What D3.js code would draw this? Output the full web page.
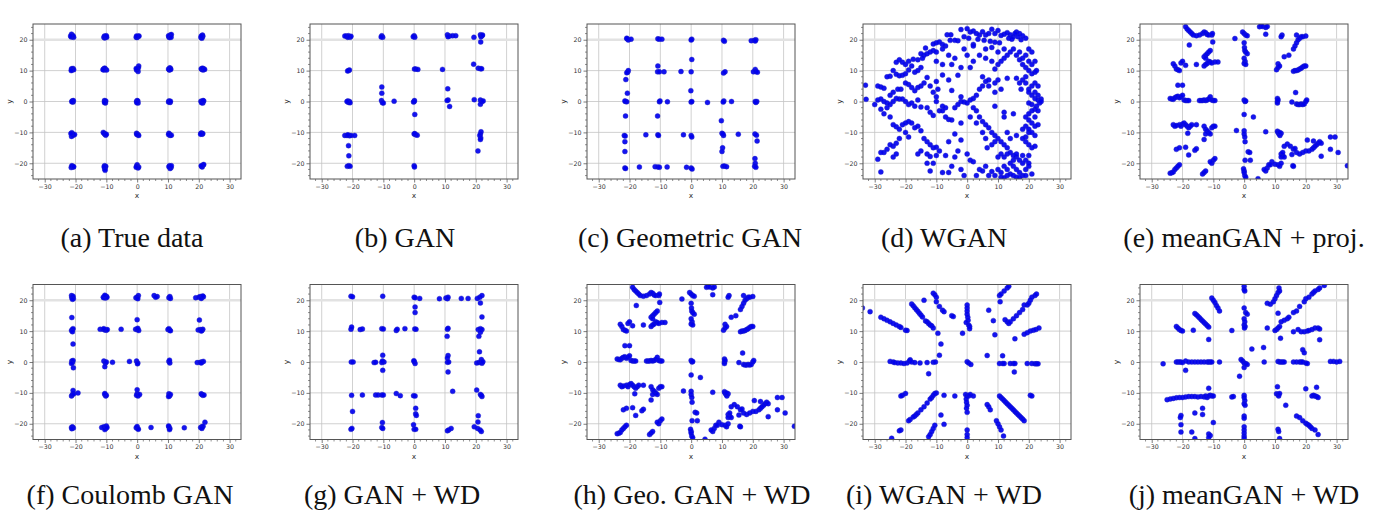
<!DOCTYPE html>
<html><head><meta charset="utf-8">
<script src="https://cdn.jsdelivr.net/npm/d3@7"></script>
<style>body{margin:0;background:#fff}svg{display:block}</style>
</head><body>
<svg id="c" width="1376" height="513"></svg>
<script>
const xTicks = [-30,-20,-10,0,10,20,30];
const yTicks = [-20,-10,0,10,20];
const captions = ["(a) True data","(b) GAN","(c) Geometric GAN","(d) WGAN","(e) meanGAN + proj.",
  "(f) Coulomb GAN","(g) GAN + WD","(h) Geo. GAN + WD","(i) WGAN + WD","(j) meanGAN + WD"];

const trueData = [[-21.3,21.8],[-21,21],[-20.6,20.8],[-21.4,20.9],[-20.8,21.3],[-21.6,21.2],[-10.8,20.8],[-10.2,21],[-10.5,20.6],[-9.9,20.8],[-10.6,21.2],[-10,21.3],[-0.3,20.8],[0.4,21.1],[0,20.7],[0.6,21.2],[-0.2,21.2],[10.3,20.9],[10.8,21.5],[10.5,20.7],[11.1,21.7],[10.2,21.3],[11,20.8],[20.7,20.7],[21.3,21.1],[21,20.5],[21.2,21.5],[20.8,21.2],
[-21.2,10.2],[-20.8,10.7],[-21,10.4],[-20.6,10.3],[-21.3,10.6],[-21.4,10],[-10.9,10.5],[-10.4,10.7],[-10.7,10.2],[-9.9,10.2],[-10.6,10.8],[-11.1,10.3],[0,10.5],[0.5,11.5],[0.3,9.7],[-0.2,10.2],[0.4,10.9],[-0.3,10.7],[10.4,10.3],[10.8,10.7],[10.5,10.2],[10.6,10.9],[10.2,10.5],[10.9,10.4],[21,10.4],[21.6,10.6],[20.8,10.6],[21.4,10.2],[21.2,10.8],[21.9,10.4],
[-21.1,0.2],[-20.8,-0.2],[-21,0],[-20.7,0.3],[-21.2,-0.1],[-10.6,0.3],[-10.3,-0.5],[-10.5,0],[-10.2,0.2],[-10.6,-0.3],[0,0.3],[0.3,-0.5],[-0.2,0],[0.2,0.2],[-0.1,-0.4],[10.3,0.2],[10.7,-0.3],[10.5,0],[10.2,-0.2],[10.8,0.1],[20.7,0.1],[21.3,-0.5],[21,0],[21.6,0.2],[20.9,-0.4],[21.4,0.3],
[-21.2,-10.1],[-20.7,-10.9],[-21,-10.5],[-20.3,-10.7],[-21.3,-11.3],[-21.5,-10.4],[-11,-10],[-10.5,-10.6],[-10.2,-10.9],[-10.7,-10.3],[-10,-10.6],[-0.2,-10.3],[0.3,-10.8],[0,-10.5],[0.5,-11],[-0.1,-10.7],[10.3,-10.3],[10.7,-11],[10.5,-10.6],[11.1,-10.9],[10.2,-10.7],[20.7,-10.3],[21.1,-10.6],[20.9,-10.2],[21.3,-10.4],[20.6,-10.6],
[-21.4,-21.4],[-21,-21],[-20.7,-21.2],[-21.2,-20.8],[-20.6,-21.1],[-10.6,-20.8],[-10.4,-21.4],[-10.5,-21.9],[-10.2,-21],[-10.7,-21.2],[-10.4,-22.3],[0,-20.5],[0.5,-21.2],[-0.2,-21],[0.3,-21.5],[-0.3,-21.3],[10.5,-20.8],[11,-21.4],[10.7,-21.7],[10.3,-21.1],[11.1,-20.8],[20.9,-21],[21.4,-20.6],[21.1,-21.2],[21.6,-20.4],[20.8,-20.8]];

const ganData = [[-22,21.2],[-21.3,21.3],[-20.8,20.8],[-21.6,20.8],[-20.5,21.1],[-21.5,21],[-22.5,21.2],[-10.5,21.3],[-10.2,20.8],[-10.7,20.9],[0,21.3],[0.2,20.8],[-0.3,21],[10.8,21.6],[11.5,21.2],[12.5,21.3],[13.5,21.3],[11,21],[19.4,20.8],[21.5,21.6],[22,21.3],[21.7,21],[22.2,21.5],[21.6,19.3],
[-21.3,10],[-21,10.2],[-21.6,9.9],[0.1,10.5],[0.5,10.5],[1.2,10.4],[9.2,10.4],[19.3,12.1],[20.8,10.8],[21.5,10.6],[21.9,10.6],
[-10.5,4.7],[-10.5,2.7],[-10.6,0.3],[-10.3,-0.4],[-10,-0.5],[-6.5,0.1],[10.9,4.1],[11,0.5],[10.7,0.3],[11.5,-1.6],[19.5,0.6],[21.5,0.5],[22,0],[21.5,-0.9],[22.4,0.2],
[-21.5,0.2],[-21,0],[-21.3,-0.3],[-20.8,-0.4],[-21.8,0],[0.1,0.3],[-0.2,-0.2],[0,0],[0.2,-4.2],
[-22.5,-11],[-21.8,-11],[-21,-11.1],[-20.5,-11],[-19.3,-11],[-21.5,-10.8],[-21.3,-14.3],[-21.2,-17.6],[-21.7,-21],[-21.2,-20.8],[-20.8,-21],
[0,-10.5],[0.5,-10.8],[1,-10.9],[0.2,-10.4],[21.7,-9.8],[21.5,-10.5],[21.3,-11],[21.6,-11.8],[21.5,-12.3],[20.7,-16],[0,-20.8],[0.1,-21.2]];

const geoData = [[-20.8,20.3],[-20.4,19.9],[-19.5,20.2],[-20.9,20.5],[-10.8,20.3],[-10.4,20.2],[-9.5,20.2],[0.2,20.2],[0,19.9],[10.5,19.8],[10.8,19.5],[19.5,19.7],[20.5,19.8],[21,20],[20.8,19.6],
[-20.6,9.5],[-20.4,10],[-20.9,9.3],[-10.8,11.5],[-10.9,9.6],[-10.3,9.6],[-8.8,9.6],[-3.3,9.7],[0,9.6],[0.2,13.6],[10.5,9.2],[11,9.6],[20.8,10.4],[20.2,9.6],[21,9.7],[21.5,9.5],
[-21.2,7.1],[-20.7,2.7],[-21.3,0],[-20.9,-0.1],[-21.5,0.2],[-10.3,-0.1],[-10.1,0.2],[-7.7,-0.1],[-0.1,3.5],[0,-0.2],[0.2,0],[5.3,-0.3],[10.6,0.2],[10.4,-0.2],[13.1,0],[20.8,0],[21.3,0],[21,-0.3],
[-21.3,-4.7],[-10.9,-4.7],[-21.7,-11],[-21.4,-11.2],[-21.5,-13],[-21.5,-16.2],[-14.7,-10.8],[-10.8,-10.8],[-10.6,-11],[-2.5,-10.8],[0,-11],[0.2,-11.5],
[9.8,-6.2],[10,-10.3],[10.5,-11],[10.3,-10.5],[10.2,-15],[10,-16.2],[15.3,-10.6],[20.7,-10.5],[21.2,-10.9],[21.4,-12.8],[20.7,-18.5],[20.8,-20],[20.6,-21],[21,-21.3],
[-21.5,-21.5],[-21.3,-21.7],[-16.8,-21.2],[-11.7,-21.1],[-10.8,-21.2],[-10.3,-21.3],[-7.8,-21.2],[-1.5,-21.3],[0,-21.5],[0.3,-21.9],[10.3,-21],[10.8,-20.9],[11.5,-21.1]];

const wganData = [[-2,23.3],[0,23.6],[1,22.5],[2,22.8],[3,22],[4,21.5],[5,22.6],[6,21.5],[7,22],[8,23.4],[9,22],[10,23],[11,21.4],[12,21.8],[13,22.3],[14,21.6],[15,21],[16,22.5],[17,22],[16.5,21],[15.5,22],[18,21.3],[17.5,20],[19,20.5],[13.5,20.5],[14.5,20.2],
[-1,21],[0.5,20.5],[3.5,20.2],[5.5,19.8],[7.5,19.5],[9,19.2],[10.5,19],[2,18.5],[-3,19.7],[-4,19.8],[-5.5,19.8],[-7,18],[-8,18.5],[-9,19.3],[-10,19],[-11,18.6],[-6.5,21.6],[-5.3,21.6],
[-12,16],[-13,15.5],[-14,15],[-15,15.5],[-14.5,14],[-13.5,17.3],[-11,16.5],[-10,16],[-16,13.5],[-17.5,13.7],[-19,13],[-20,12],[-21,12.7],[-22,13.5],[-23,12.7],[-18,11.5],[-19,10.2],[-20,9],[-21,8.5],[-22,8.3],[-23,8.8],[-24,10],[-25,8.2],[-26,8],[-17,9.5],[-16,10],[-15,11],
[-13,7.8],[-14,6],[-12,5],[-10,6.5],[-8,8.6],[-6,7],[-9.5,4],[-11,3],[-15,5],[-16,4.5],[-17,3.5],[-18,4.5],[-19,5.5],[-20,6],[-21.5,4],[-22.5,4],[-24,3],[-25,2],[-27,4.3],[-28,4.7],[-29,5],[-33,5.3],[-32.8,0.7],
[-29,0.5],[-28,0.8],[-27,0],[-26,-0.5],[-25,-1],[-24,0],[-23,1],[-22,0.8],[-21,0.8],[-20,0],[-19,-1],[-18,-0.5],[-17,-1.5],[-16,0.5],[-15,-1.8],[-13,-2],[-12,-3.5],[-11,-4.5],[-10,1.5],[-10,0],[-9,-3],[-8,-1.5],[-7,-2],[-6,-5.8],[-4,-2],[-3,-1],[-2,0],[-1,-0.2],[0,-0.5],[1,0.5],[2,1],[3,2],[4,4],[5,5],[6,6.5],[7,7],[-5,3.6],[-2,1.5],
[-30,-1],[-28,-2.5],[-27,-4],[-26,-2],[-25,-5],[-24,-7.5],[-23,-8.2],[-22,-9],[-21,-7.5],[-20,-7],[-19,-6.5],[-18,-7],[-17,-8.5],[-16,-8],[-15,-9.5],[-14,-12],[-13,-13],[-12,-14],[-11,-15],[-10,-14.8],[-9,-16],[-20,-10],[-19,-11.5],[-22,-12],[-23,-13.5],[-24,-14.5],[-25,-14],[-26,-15.5],[-27,-16.5],[-28,-16.5],[-29,-18.7],[-28,-22.8],[-24,-18],[-23,-17],
[-16,-17],[-15,-16],[-13,-17],[-12,-17.8],[-13,-20],[-12,-22.5],[-11,-20],[-10,-17.5],[-8,-23],[-7,-17.5],[-6,-23],[-5,-21],[-4,-18],[-3,-16],[-2,-22],[-1,-24],[0,-17],[1,-19],[2,-19.5],[3,-24],[4,-22],[5,-22.5],[6,-21],[7,-24],[8,-22.7],[9,-24],[-4,-10.5],[-6,-13],[-2,-12.5],
[2,-2],[3,-3],[4,-5],[5,-6.5],[6,-7.5],[7,-8.5],[8,-10],[9,-11],[10,-12],[11,-13],[12,-14],[13,-15],[5,-10],[6,-12],[6.5,-15],[8,-14],[9,-13],[10,-18],
[10,-22],[11,-23],[12,-21],[13,-22],[14,-20],[15,-21],[16,-22],[17,-23],[18,-24],[19,-22],[20,-21],[13,-24],[14,-23.5],[15,-24],[16,-24.5],[17,-24.6],[11,-24.5],[12,-24.7],[19,-24],[21,-23.5],[15,-19],[16,-18],[17,-19],[18,-20],[19,-19],[20,-20],[11,-17],[12,-18],[13,-17],[14,-16.5],[15,-17.5],[16,-17],[18,-17.5],[20,-17.5],[21,-15],[22,-14.5],[20,-14],[19,-13],
[9,10.5],[10,12],[11,13],[12,14],[13,15],[14,16],[15,17],[16,15],[17,13.5],[18,12],[19,11],[20,10],[21,9],[22,9.5],[22.5,10],[20,13],[21,12],[22,13],[18,14],[17,16],[19,15],[20,17],[21,16],[22,6],[23,5],[21,5],[20,4],[19,6],[20,3],[21,2],[22,1],[23,0.5],[24,0.8],[23.5,-0.5],[22.5,-1.5],[22,-2.5],[21,-3],[20,-4],[19,-5],[20,-6],[21,-7],[19,-8],[18,-9],[20,-10],[21,-10],[22,-11],[19,-11.5],[18,-12],[20,-9],[22,-8],[23,-7.5],[22,-5],[23,-3],[24,0],[22,3],[23,2],[21,-1],[20,-0.5],[17,6],[18,7],[19,8],[16,7.5],[17.5,4],[15,-4],[14,-12],[13,-10],[16,-11],[12,-5],[9,-1.5],[9,6],[12,-3.5],[11,4],[13,7.5],
[-7,-5],[-8,-3],[-5,-6],[-2,-7],[1,-5],[3,-7],[-3,8.5],[-5,12],[-4,14],[-2,11],[1,11],[2,13],[0,15],[4,15],[6,14],[8,13],[10,7],[9,3],[7,5],[5,8],[-8,12],[-6,15],[-10,13],[-8,17],[2,18],[6,17],[8,17.5],[10,16],[12,17],[-1,17]];

const meanProjData = [[-19,24.2],[-18.5,23.5],[-18,23],[-17.5,22.5],[-17,22],[-16.5,21.5],[-15.5,21.3],[-14.5,21.5],[-13.5,22],[-13,22.5],[-12.5,22.3],[-12,21.7],[-11.5,21.5],[-10.5,21.5],[-10.3,22],[-10.2,19.3],[-17.8,18.3],
[-23,12.2],[-22.5,11.5],[-22,10.5],[-21.5,10.3],[-21,10],[-20.5,12.5],[-20,13],[-19,11.7],[-15.5,12],
[-13,11.5],[-12.5,12],[-12,12.3],[-11.5,13],[-11,12.8],[-10.5,12.5],[-9.5,12.8],[-8.5,12.8],[-13,14.5],[-12.5,15],[-12,15.5],[-11.5,16],[-11,16.5],[-12.5,14],
[-21.5,5.3],[-20,5.3],
[-24,1],[-23.5,0.8],[-23,0.7],[-22.5,1.2],[-22,1.5],[-21.5,1.7],[-21,1.2],[-20.5,1.5],[-20,2],[-19.5,0.5],[-19,0.3],[-18.5,0.3],[-18,0.3],
[-14.5,0.3],[-14,0.3],[-13.5,0.3],[-13,0.5],[-12.5,0.3],[-12,0.5],[-11.5,0.8],[-11,1.5],[-10.5,0.5],[-10,0.3],[-9.5,0.3],
[-23,-7.5],[-22.5,-8],[-22,-7.8],[-21,-7.5],[-20.5,-8],[-20,-7.3],[-19.5,-7],[-19,-7.5],[-18.5,-8],[-18,-8.5],[-17.5,-8],[-17,-7.5],[-18.3,-10.3],[-15.5,-7.5],
[-13,-8],[-12.5,-9],[-12,-9.5],[-11.5,-10],[-11,-10.5],[-10.5,-8.5],[-10,-8],[-9.5,-8],[-12.5,-10.5],[-13,-12.3],
[-22,-15.5],[-21,-15],[-19,-14.8],[-18,-17.3],[-16,-15.8],[-15.5,-15.3],
[-24,-23.2],[-23.5,-23.1],[-23,-22.8],[-22.5,-22],[-22,-21.5],[-21.5,-21],[-21,-20.5],
[-13.5,-23.5],[-13,-23],[-12.5,-22.5],[-10.5,-20],[-10,-19],[-9.5,-18.5],[-11,-19.5],
[-0.5,22.5],[0,22],[0.5,21.5],[1,21.3],[-3,20.4],[0,19],[0.1,17.5],[0.2,16.5],[0.5,16],[1,15.5],[0,14],[0.3,13],[0,12.3],[0.5,12],
[0,0.5],[0.3,0],[0.5,0.2],[0,-4.2],[3,-5],[-2.5,-9.4],[0,-9.5],[0,-10.5],[0.2,-11.5],[0.3,-13],[1.3,-16.3],[1.8,-16.5],[0.3,-19],[2,-19],[0,-22.5],[0,-23],[0.2,-24],[0.5,-24.5],[-0.2,-21.8],[4.5,-25],
[5,24.2],[5.5,24.5],[6,24.3],[7,24],[7.5,24.3],[7,21.8],
[12.3,21.5],[12,21],[14.5,15],[13,14.5],[11,12.2],[10.5,10.3],[11,11],[11.5,11.5],[16,17],[16.5,18],[17,19],[17.5,20],[18,20.5],[18.5,21],[17,21.5],[19,21],[20,21.2],
[16,9.8],[16.5,10],[17,10],[17.5,10.2],[18,10.5],[18.5,10.8],[19,11.2],[19.5,11.5],[20,11.5],
[10.8,1],[10.8,0],[10.8,-0.5],[11,0.5],[15.5,-0.2],[16.7,2.9],[17,-0.8],[17.5,-1],[18,-1],[18.5,-0.8],[19,-1],[19.5,-0.8],[20,0],[20.3,0.5],
[7,-9.8],[10.8,-9.6],[11,-10],[11.3,-10.5],[11.6,-11],[12,-10.3],[11.5,-10],
[12,-17],[12.5,-17.5],[12,-18],[13,-18],[12.5,-16.5],[13,-14.5],[14,-13.8],[15,-14.5],[16,-15.5],[17,-16.5],[18,-17],[19,-16.5],[20,-16],[20.5,-12.5],[21,-16],[22,-15.5],[22.5,-15],[23,-14.5],[23.5,-14],[24,-13.5],[24.5,-13],[25,-13.5],[22.5,-12.8],[25,-17.7],[28,-11.5],[28,-15.5],[29.5,-11.5],[30.5,-16.5],[33.5,-20.8],[15.5,-17.2],[16.5,-15.2],
[7,-22.5],[7.5,-21.5],[8,-20.5],[9,-19.5],[10,-20.3],[11,-20.5],[11.5,-21],[12,-20],[15.8,-20.8],[16,-21],[8.5,-20.5],[6.5,-22]];

const coulombData = [[-21.3,21.5],[-21,21],[-20.7,20.5],[-21.2,20.8],[-20.8,21.3],[-21,20.3],[-11,21],[-10.5,21.2],[-10,21.3],[-10.2,20.7],[-10.8,20.8],[-9.8,21],[-10.5,21.6],[-0.4,20.8],[0.4,21.5],[0,21],[0.2,20.5],[5.5,21.5],[6.5,21.2],[6,21],[10.3,20.8],[10.6,21.2],[10.8,20.6],[19,20.8],[20,21],[20.5,21.2],[21,21],[21.5,21.1],[20.8,20.6],[21.3,21.4],
[-21.2,14.4],[-21,10.5],[-21.3,10.2],[-20.8,10.8],[-21,9.8],[-12,10.6],[-11,10.6],[-10.5,10.4],[-10,10.3],[-9.7,10.5],[-10.8,10.8],[-5.2,10.6],[-0.5,10.6],[0,10.5],[0.5,10.2],[0.2,10.9],[0,13.7],[10,10.5],[10.6,10.3],[10.3,10.8],[10.8,10.1],[20.2,13.6],[19.8,10.4],[20.5,10.5],[21,10.2],[21.3,10.6],[20.8,10],
[-20.8,5.8],[-21.2,0.3],[-21,-0.2],[-20.8,0.5],[-21.3,-0.5],[-20.7,-1.9],[-10.8,0.3],[-10.3,-0.3],[-10.5,-1.5],[-10,0],[-8,-0.1],[-2.5,0.2],[-0.2,0.3],[0.2,-0.3],[0.1,-0.6],[10.3,0.2],[10.6,-0.3],[10.5,0.6],[19.5,-0.2],[20.5,-0.1],[21,0],[21.5,0.2],[20.8,-0.3],
[-21.3,-11],[-21,-10.5],[-20.6,-10.3],[-20.8,-9.2],[-19.2,-10],[-10.5,-10.5],[-10.2,-11],[-10,-10.8],[-10.5,-10.2],[0,-9],[0,-10.3],[-0.2,-10.8],[0.3,-11],[0.8,-10.5],[10.3,-10.3],[10.5,-11],[10.8,-10.5],[10.2,-11.2],[20.8,-10.3],[21.3,-10.8],[21,-10.5],[21.7,-10.7],
[-21.3,-21.2],[-21,-21],[-20.7,-21.4],[-21.2,-21.6],[-11.5,-21.2],[-10.8,-21],[-10.2,-21.5],[-10.5,-21.9],[-10,-20.7],[-9.8,-21.2],[-0.3,-21.3],[0.2,-21.6],[0,-20.9],[0.4,-21.8],[4.5,-21.2],[10.3,-21],[10.6,-21.5],[10.5,-21.9],[10.2,-20.7],[15.3,-21.3],[20.6,-21.2],[21,-21],[21.4,-20.8],[21,-21.5],[22,-19.5]];

const ganWdData = [[-20.5,21.3],[-20,21.1],[-10.2,21.3],[0,21],[0.3,20.8],[1.8,20.6],[8.2,20.5],[10.3,20.7],[10.8,20.5],[11,21],[15.3,20.6],[17.5,20.6],[20.5,20.6],[21.3,21],[22,21.5],[21.5,19.1],[22,14.6],[0.3,17.8],[0.3,16],
[-20.5,10.6],[-20.3,11.3],[-17.5,10.5],[-16.8,10.7],[-10.5,10.8],[-10,10.7],[-5.8,10.2],[-5.5,10.6],[-3,10.8],[0.2,10.7],[0.6,10.6],[10.8,10.6],[10.7,8.3],[11,10.9],[20.8,10.5],[21.5,10.8],[22,10.5],[21.5,9.6],[21,8.3],
[-10.2,2.2],[-10.2,-2.7],[11,2.1],[10.8,1.3],[11,-3.2],[21.2,3.3],[21.8,0.8],
[-20.4,0],[-19.8,0],[-13,-0.2],[-12.5,-0.1],[-10.5,-0.2],[-9.8,0],[-10.3,0.3],[0,0.2],[0.3,-0.5],[-0.1,0.4],[10.8,-0.1],[11.2,0],[20.3,-0.3],[21,-0.2],[21.7,0],[22,-0.4],[22.3,0.1],
[-20.3,-10.8],[-16.8,-10.7],[-12.5,-10.7],[-11.7,-10.7],[-10.5,-10.7],[-10,-10.7],[-5.8,-10.2],[-4.5,-10.9],[-0.2,-10.9],[0.3,-11],[12.5,-9.5],[20.3,-9.1],[21.5,-10.5],[22,-11.2],[21.8,-10.8],
[-20,-16],[0.5,-15],[0.5,-16.8],[0.7,-17.3],[-10.3,-19.6],[-0.2,-20.3],[20.8,-17.4],[20.7,-19.4],
[-20.5,-21.8],[-20.2,-21.5],[-10.5,-21.2],[-10.2,-21.5],[0,-21.8],[0.5,-21.8],[10.8,-22.3],[11.2,-22],[12,-21.5],[19.5,-21],[20.6,-21.5],[21.4,-22],[21.8,-22.5]];

const wganWdData = [[-28,14.5],[-27,14],[-26,13.5],[-25,13],[-24,12.5],[-23,12],[-22,11.5],[-21.5,11.2],[-20,10.3],[-19.5,10.2],[-31.5,16.3],[-34,17.5],
[-18,18.8],[-17.5,18.2],[-17,17.6],[-16.5,17],[-16,16.4],[-15.5,15.8],[-15,15.2],[-14.5,14.6],[-13.5,13.3],[-13,13],[-12.5,12.5],[-12,12],[-11.5,11.7],[-11,11],
[-14,20],[-11,22.3],[-10.5,21.8],[-10,21],[-10,19.5],[-9,18],[-8,16.8],[-7.5,16.3],[-5,15],[-4.5,14.7],[-9.5,9.3],[-8.5,5.8],[-9,2.2],[-12.5,-3.8],
[0,18.5],[0,17.5],[0,16.5],[0,15.5],[0.2,14.5],[0.3,13.5],[-0.3,12.8],[0.5,12],[0.8,11.5],[0.8,10.8],[-1.5,9.3],
[7,16.8],[8.5,13.4],[9,8.8],[6.5,2.1],[11.5,2],
[10.5,21.5],[11,22],[12,23],[13,24],[13.5,24.5],[10.7,19.5],[12.3,13.7],[13,13],[13.5,12.5],[14,13],[15,14],[16,15],[17,16],[18,17],[18.5,18.5],[19.5,18.5],[20,19],[20.5,20],[21,21],[22,21.5],[22.5,22],
[15.5,7.5],[18.5,9],[19.5,9.5],[20.5,10],[21.5,10.3],[22.3,10.5],[23.3,11],
[-25,0.2],[-24,0],[-23.5,-0.2],[-22.5,-0.3],[-21.5,-0.3],[-20.5,-0.5],[-19.5,-0.3],[-18.7,0.3],[-18.5,0.7],[-18,0],[-17,-0.2],[-15.3,-0.3],[-13,-0.2],[-11,-0.1],[-10.3,0],
[0,0.1],[0.5,-0.3],[1.2,-0.8],
[10.5,-0.5],[11.5,-0.5],[12,-0.5],[14,-0.5],[15,-0.5],[15.5,-0.5],[15.3,-3.2],[19.5,-0.5],[21,-0.5],[22,-0.6],[22.5,-0.6],[23,-0.6],
[-20,-10.2],[-21,-10.8],[-21.5,-11],
[-10,-10],[-10.5,-10.2],[-11,-10.8],[-11.5,-11.5],[-12,-12],[-13,-13.3],[-14,-14.5],[-15,-15.5],[-16,-16.5],[-16.5,-17],[-17,-17.5],[-17.5,-17.8],[-18.5,-18.6],[-19,-19],[-7.5,-10.8],[-4,-11],
[-0.5,-10.5],[0,-11],[0.5,-11],[1,-10.5],[2,-11],[-0.3,-12],[-0.2,-13],[0,-14],[-0.2,-15],[0,-16.3],
[10.5,-11],[11,-11.5],[11.5,-12],[12,-12.5],[12.5,-13],[13,-13.5],[13.5,-14],[14,-14.5],[14.5,-15],[15,-15.5],[15.5,-16],[16,-16.5],[16.5,-17],[17,-17.5],[17.5,-18],[18,-18.5],[18.5,-19],
[6.5,-13.8],[7,-14.5],[7.5,-15.5],[9.5,-19],[10,-20],[10.5,-21],[11,-22],[11.8,-24],
[-8.5,-17.2],[-7.5,-20.2],[-10.5,-20.5],[-11,-21.5],[-11.5,-22.5],[-12,-23.5],[-12.5,-24.2],
[-21.5,-22],[-22,-22.3],[-24.5,-24.7],[0,-22],[0,-23.5],[0,-24.5],[20.5,-10.8],[21,-11]];

const meanWdData = [[0,24.5],[0,23.5],[0.2,23],[0,17.5],[0.5,16],[1,15.5],[0,14],[0.2,13],[0,12],[0.3,11.5],[0.1,11],
[-10.5,20.7],[-10,20],[-9.5,19.3],[-9,18.3],[-8.5,17.5],[-8,16.5],
[-16,15.7],[-15.5,15.3],[-15,14.8],[-14.5,14.3],[-14,13.8],[-13.5,13.3],[-13,12.8],[-12.5,12.3],[-12,11.8],[-11.5,11.3],
[-22,11.5],[-21.5,11],[-21,10.5],[-20.5,10.2],[-20,10],[-16.5,10.3],[-11.5,7.3],[-4,10.2],
[7.5,19],[8.5,18.7],[9.5,19.5],[10,20.5],[10.5,21.5],[11,22.5],[11.5,23],[11.3,24],[11,15.8],[10,10.2],[10.5,10.5],[11,11],[11.5,11.5],[12,13],[13,13.5],[14,14],[14.5,14.5],[16,16],[17,16.5],[18,18],[19.5,19.5],[20,20.5],[21,21],[22,22],[22.5,22.5],[23,23],[24,23.5],[24.5,24],[26,24.8],[11.8,7.7],[7.5,11],
[16,9.8],[17.5,10.5],[18.5,9.8],[19.5,9.8],[20.5,10],[21,10.2],[22,10.5],[23,11],[24,11],[24.5,10.7],[24.5,7.2],[19,4],[19.5,3],
[-26.3,-0.6],[-22,0],[-21.5,0],[-21,0],[-20.5,0],[-20,-0.2],[-19,0.3],[-19,-2.7],[-18,0],[-17,0],[-16,0],[-15,0],[-14,0],[-13,0],[-12,0],[-11.5,0],[-11,0],[-10.5,0],[-8,0],[-1,0.8],[-0.5,0.3],[0,-0.3],[0,-1.8],[0.5,-0.5],[1,-0.8],[-1.5,-4.6],[2.5,4.2],[6.3,4.7],[6.5,0],
[11,0.2],[11.5,0],[12,0],[12.5,0],[13,0],[16,0],[17,0],[18,0],[18.5,0],[19,0],[20,-0.3],[20.5,-0.5],[28,0.2],[29,0.2],[30,0],[31,0.2],
[-25,-12.2],[-24,-12],[-23,-11.8],[-22,-11.6],[-21,-11.5],[-20,-11.5],[-19,-11.3],[-18,-11.2],[-17,-11.2],[-16,-11.2],[-15,-11.3],[-14,-11.2],[-13,-11.3],[-12.5,-11],[-12,-11.5],[-11.5,-11],[-11,-10.8],[-10.5,-11],[-10,-11],[-11.5,-8.5],[-4,-11.3],[-3.5,-11.2],
[0,-10.8],[0,-11.5],[0.2,-12.5],[0,-13.5],[0.3,-14],[0,-17.5],[0,-18.2],[0,-21],[0,-22],[0,-23],[0,-24],[0,-24.7],
[10.5,-10.3],[11,-10.5],[11.2,-11],[11.5,-10.2],[10.8,-8],[13.5,-14],[20,-8.7],[23.5,-8.2],[22,-11],[22.5,-10.8],[23,-11],[23.5,-11.2],[24,-11.5],
[11,-21.8],[11.2,-22.5],[11.5,-24.8],[17,-17.5],[18,-18],[19,-19],[20,-19.8],[20.5,-20.2],[21,-20.5],[21.5,-21],[22,-21.5],[23,-22],[24,-23.5],
[-20.5,-17.3],[-20.7,-18],[-20.5,-20.3],[-20.5,-22.7],[-16,-16.5],[-17,-22.7],[-16,-24.8],[-13.5,-15],[-13.5,-17],[-10,-19.6],[-11.5,-23.3],[-11,-23.8],[-11.5,-24.5]];

// panel (h) shows the same sample as panel (e)
const panelData = [trueData, ganData, geoData, wganData, meanProjData,
  coulombData, ganWdData, meanProjData, wganWdData, meanWdData];

const svg = d3.select("#c");
const W = 208, H = 155;
const lefts = [33, 310, 587, 863, 1140];
const tops = [24, 284.5];
const capX = [132, 405, 690, 944, 1244, 130, 392, 692, 944, 1244];
const capY = [247, 504];

const x = d3.scaleLinear().domain([-33.8, 33.7]).range([0, W]);
const y = d3.scaleLinear().domain([-25.1, 25.1]).range([H, 0]);
const minorX = d3.range(-32, 33, 2).filter(v => v % 10 !== 0);
const minorY = d3.range(-24, 25, 2).filter(v => v % 10 !== 0);

panelData.forEach((pts, i) => {
  const row = Math.floor(i / 5), col = i % 5;
  const g = svg.append("g").attr("transform", `translate(${lefts[col]},${tops[row]})`);
  const clipId = "clip" + i;
  g.append("clipPath").attr("id", clipId).append("rect").attr("width", W).attr("height", H);
  g.append("g").selectAll("line").data(xTicks).join("line")
    .attr("x1", d => x(d)).attr("x2", d => x(d)).attr("y1", 0).attr("y2", H)
    .attr("stroke", "#c4c4c4").attr("stroke-width", 0.8);
  g.append("g").selectAll("line").data(yTicks).join("line")
    .attr("y1", d => y(d)).attr("y2", d => y(d)).attr("x1", 0).attr("x2", W)
    .attr("stroke", d => d === 20 ? "#e2e2e2" : "#c4c4c4").attr("stroke-width", d => d === 20 ? 2.5 : 0.8);
  g.append("g").attr("clip-path", `url(#${clipId})`).selectAll("circle").data(pts).join("circle")
    .attr("cx", d => x(d[0])).attr("cy", d => y(d[1])).attr("r", 2.5)
    .attr("fill", "#0000f0").attr("stroke", "#2020c0").attr("stroke-width", 0.4).attr("fill-opacity", 0.92);
  const ax = g.append("g").attr("transform", `translate(0,${H})`)
    .call(d3.axisBottom(x).tickValues(xTicks).tickSize(3.5).tickPadding(2).tickFormat(d => d < 0 ? "\u2212" + (-d) : d));
  ax.append("g").selectAll("line").data(minorX).join("line")
    .attr("x1", d => x(d)).attr("x2", d => x(d)).attr("y1", 0).attr("y2", 2).attr("stroke", "#444").attr("stroke-width", 0.6);
  const ay = g.append("g")
    .call(d3.axisLeft(y).tickValues(yTicks).tickSize(3.5).tickPadding(2).tickFormat(d => d < 0 ? "\u2212" + (-d) : d));
  ay.append("g").selectAll("line").data(minorY).join("line")
    .attr("y1", d => y(d)).attr("y2", d => y(d)).attr("x1", 0).attr("x2", -2).attr("stroke", "#444").attr("stroke-width", 0.6);
  [ax, ay].forEach(a => {
    a.select(".domain").remove();
    a.selectAll(".tick line").attr("stroke", "#444").attr("stroke-width", 0.7);
    a.selectAll("text").attr("font-family", "DejaVu Sans").attr("font-size", 6.3).attr("fill", "#333");
  });
  g.append("rect").attr("width", W).attr("height", H).attr("fill", "none").attr("stroke", "#555").attr("stroke-width", 1);
  g.append("text").attr("x", W / 2).attr("y", H + 19).attr("text-anchor", "middle")
    .attr("font-family", "DejaVu Sans").attr("font-size", 7.5).attr("fill", "#333").text("x");
  g.append("text").attr("transform", `translate(-21,${H / 2}) rotate(-90)`).attr("text-anchor", "middle")
    .attr("font-family", "DejaVu Sans").attr("font-size", 7.5).attr("fill", "#333").text("y");
  svg.append("text").attr("x", capX[i]).attr("y", capY[row]).attr("text-anchor", "middle")
    .attr("font-family", "Liberation Serif").attr("font-size", 28).attr("fill", "#111").text(captions[i]);
});
</script>
</body></html>
